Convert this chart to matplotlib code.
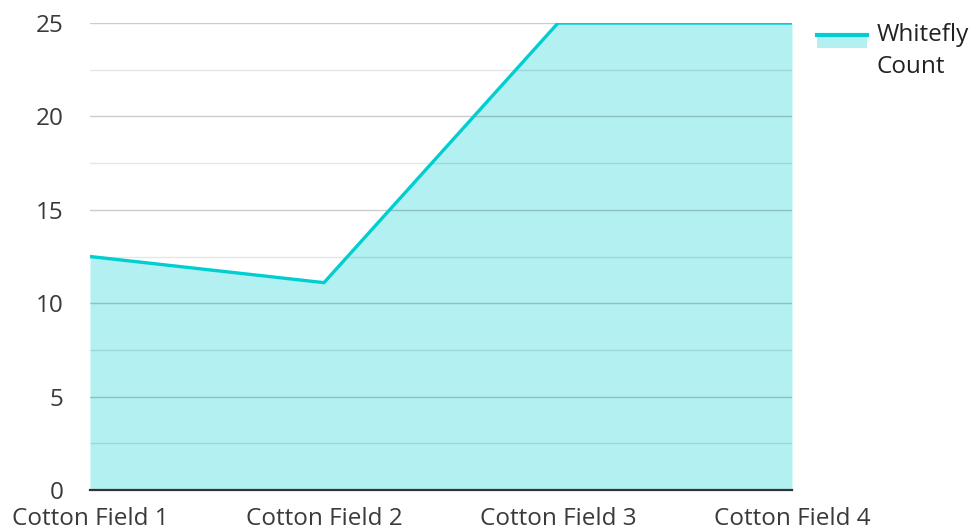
import matplotlib.pyplot as plt
import numpy as np
from matplotlib.patches import Rectangle
from matplotlib.lines import Line2D

plt.rcParams['font.family'] = ['Open Sans', 'DejaVu Sans']

fields = ["Cotton Field 1", "Cotton Field 2", "Cotton Field 3", "Cotton Field 4"]
whitefly = [12.5, 11.1, 25, 25]
series_name = "Whitefly\nCount"

color = "#00CED1"
text_color = "#3a3a3a"

fig = plt.figure(figsize=(9.76, 5.31), dpi=100)
ax = fig.add_axes([90 / 976, 1 - 490 / 531, (792 - 90) / 976, (490 - 23) / 531])

x = np.arange(len(fields))
ax.fill_between(x, 0, whitefly, color=color, alpha=0.3, linewidth=0, zorder=1)
ax.plot(x, whitefly, color=color, linewidth=2.4, zorder=4, solid_joinstyle="miter")

ax.set_xlim(0, len(fields) - 1)
ax.set_ylim(0, 25)
ax.set_yticks(np.arange(0, 26, 5))
ax.set_yticks(np.arange(2.5, 25, 5), minor=True)
ax.grid(axis="y", which="major", color="black", alpha=0.2, linewidth=1, zorder=2)
ax.grid(axis="y", which="minor", color="black", alpha=0.1, linewidth=1, zorder=2)
ax.set_axisbelow(False)

ax.set_xticks(x)
ax.set_xticklabels(fields)
ax.tick_params(axis="both", which="both", length=0, labelsize=17.5, colors=text_color)
ax.tick_params(axis="x", pad=12)
ax.tick_params(axis="y", pad=19)

for s in ["top", "right", "left"]:
    ax.spines[s].set_visible(False)
ax.spines["bottom"].set_color("#333333")
ax.spines["bottom"].set_linewidth(1.6)
ax.spines["bottom"].set_zorder(5)

# legend, drawn in figure pixels
W, H = 976, 531
fig.patches.append(Rectangle((817 / W, 1 - 48 / H), 50 / W, 12 / H,
                             transform=fig.transFigure, color=color, alpha=0.3, linewidth=0))
fig.lines.append(Line2D([817 / W, 867 / W], [1 - 35 / H, 1 - 35 / H],
                        transform=fig.transFigure, color=color, linewidth=3))
fig.text(877 / W, 1 - 23 / H, series_name, fontsize=17.5, color="#222222",
         va="top", ha="left", linespacing=1.45)

fig.savefig("out.png", dpi=100)
